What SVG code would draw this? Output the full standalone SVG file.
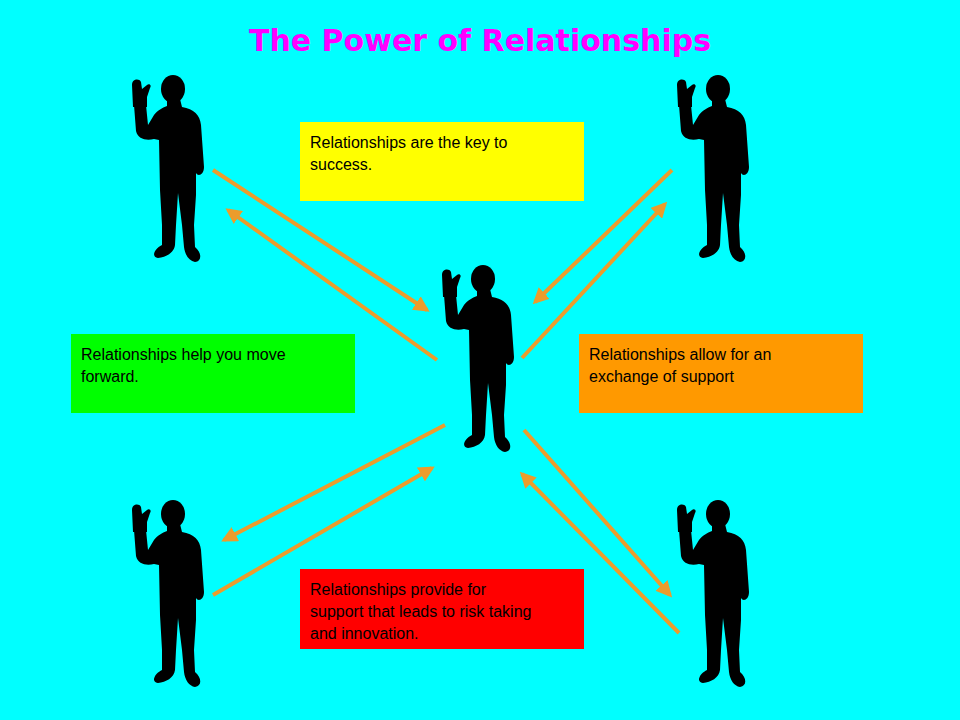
<svg xmlns="http://www.w3.org/2000/svg" width="960" height="720" viewBox="0 0 960 720">
<style>
.t{font-family:"Liberation Sans",Arial,sans-serif;font-size:16px;fill:#000}
.c line{stroke:#ec9c2c;stroke-width:4;marker-end:url(#ah)}
</style>
<defs>
<marker id="ah" viewBox="0 0 10 10" refX="8" refY="5" markerWidth="4" markerHeight="4" orient="auto" markerUnits="strokeWidth"><path d="M0 0L10 5L0 10Z" fill="#ec9c2c"/></marker>
<g id="p" fill="#000">
<ellipse cx="41" cy="14" rx="12" ry="14"/>
<path d="M35 24L48 24L50 32C62 34 68 40 69 50L72 92C72 100 66 102 64 98L64 120L62 150L63 172C70 178 70 186 63 187C57 186 53 180 52 172L50 150L46 118L44 150L43 170C42 178 34 182 26 183C19 182 22 174 30 170L30 150L28 115L27 65L22 64C14 66 6 64 4 56L2 30L14 30L16 50L22 40C26 35 30 33 35 31Z"/>
<path d="M1 32L0 10C0 4 7 3 9 7L10 14L15 10C17 8 20 10 18 13L15 22L15 32Z"/>
</g>
</defs>
<rect width="960" height="720" fill="#00ffff"/>
<text x="480" y="51" text-anchor="middle" font-family="Comic Sans MS,'DejaVu Sans',sans-serif" font-weight="bold" font-size="30" fill="#ff00ff">The Power of Relationships</text>
<g id="people">
<use id="p1" href="#p" x="132" y="75"/>
<use id="p2" href="#p" x="677" y="75"/>
<use id="p3" href="#p" x="442" y="265"/>
<use id="p4" href="#p" x="132" y="500"/>
<use id="p5" href="#p" x="677" y="500"/>
</g>
<g class="c" id="connectors">
<line x1="213" y1="170" x2="427" y2="310"/>
<line x1="437" y1="360" x2="228" y2="210"/>
<line x1="672" y1="170" x2="535" y2="302"/>
<line x1="522" y1="358" x2="665" y2="204"/>
<line x1="445" y1="425" x2="224" y2="540"/>
<line x1="213" y1="595" x2="432" y2="468"/>
<line x1="524" y1="430" x2="670" y2="595"/>
<line x1="679" y1="633" x2="522" y2="474"/>
</g>
<g id="b1"><rect x="300" y="122" width="284" height="79" fill="#ffff00"/><text class="t" x="310" y="148">Relationships are the key to</text><text class="t" x="310" y="170">success.</text></g>
<g id="b2"><rect x="71" y="334" width="284" height="79" fill="#00ff00"/><text class="t" x="81" y="360">Relationships help you move</text><text class="t" x="81" y="382">forward.</text></g>
<g id="b3"><rect x="579" y="334" width="284" height="79" fill="#ff9900"/><text class="t" x="589" y="360">Relationships allow for an</text><text class="t" x="589" y="382">exchange of support</text></g>
<g id="b4"><rect x="300" y="569" width="284" height="80" fill="#ff0000"/><text class="t" x="310" y="595">Relationships provide for</text><text class="t" x="310" y="617">support that leads to risk taking</text><text class="t" x="310" y="639">and innovation.</text></g>
</svg>
